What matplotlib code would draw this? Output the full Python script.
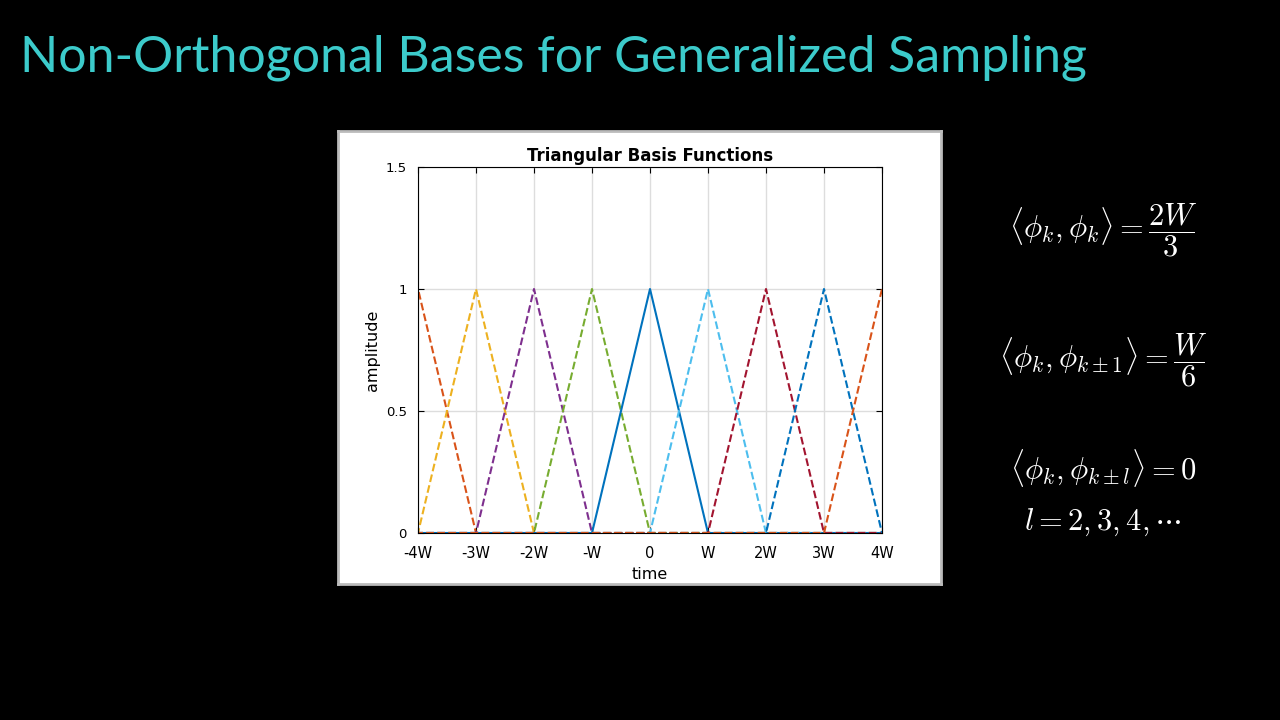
import matplotlib.pyplot as plt

centers = [-4, -3, -2, -1, 0, 1, 2, 3, 4]
colors = ['#D95319', '#EDB120', '#7E2F8E', '#77AC30', '#0072BD',
          '#4DBEEE', '#A2142F', '#0072BD', '#D95319']
styles = ['--', '--', '--', '--', '-', '--', '--', '--', '--']
xtick_labels = ['-4W', '-3W', '-2W', '-W', '0', 'W', '2W', '3W', '4W']
ytick_vals = [0, 0.5, 1, 1.5]
ytick_labels = ['0', '0.5', '1', '1.5']

plt.rcParams['mathtext.fontset'] = 'cm'
fig = plt.figure(figsize=(12.8, 7.2), dpi=100, facecolor='black')
fig.text(0.016, 0.92, 'Non-Orthogonal Bases for Generalized Sampling',
         color='#3CCBCB', fontsize=36, family='Lato', va='center')

# white panel behind the matlab figure
bg = fig.add_axes([338/1280, 1-584/720, 603/1280, 453/720])
bg.set_facecolor('white')
bg.set_xticks([])
bg.set_yticks([])
for s in bg.spines.values():
    s.set_color('#bbbbbb')
    s.set_linewidth(2)

ax = fig.add_axes([418/1280, 1-533/720, 464/1280, 366/720])
for c, col, ls in zip(centers, colors, styles):
    xs = [-5, c-1, c, c+1, 5]
    ys = [0, 0, 1, 0, 0]
    ax.plot(xs, ys, color=col, ls=ls, lw=1.5)
ax.set_xlim(-4, 4)
ax.set_ylim(0, 1.5)
ax.set_xticks(centers)
ax.set_xticklabels(xtick_labels, fontsize=10.5)
ax.set_yticks(ytick_vals)
ax.set_yticklabels(ytick_labels, fontsize=9.5)
ax.grid(True, color='#dddddd', lw=1)
ax.set_axisbelow(True)
ax.tick_params(direction='in', top=True, right=True, length=4)
ax.tick_params(axis='x', pad=9)
ax.tick_params(axis='y', pad=8)
ax.set_xlabel('time', fontsize=11.5, labelpad=5)
ax.set_ylabel('amplitude', fontsize=11.5, labelpad=4)
ax.set_title('Triangular Basis Functions', fontsize=12, fontweight='bold', pad=4)

eq = dict(color='white', fontsize=22, ha='center', va='center')
fig.text(0.862, 0.68, r'$\langle\phi_k,\phi_k\rangle = \dfrac{2W}{3}$', **eq)
fig.text(0.862, 0.50, r'$\langle\phi_k,\phi_{k\pm1}\rangle = \dfrac{W}{6}$', **eq)
fig.text(0.862, 0.35, r'$\langle\phi_k,\phi_{k\pm l}\rangle = 0$', **eq)
fig.text(0.862, 0.275, r'$l = 2, 3, 4, \cdots$', **eq)

fig.savefig('out.png', facecolor='black')
